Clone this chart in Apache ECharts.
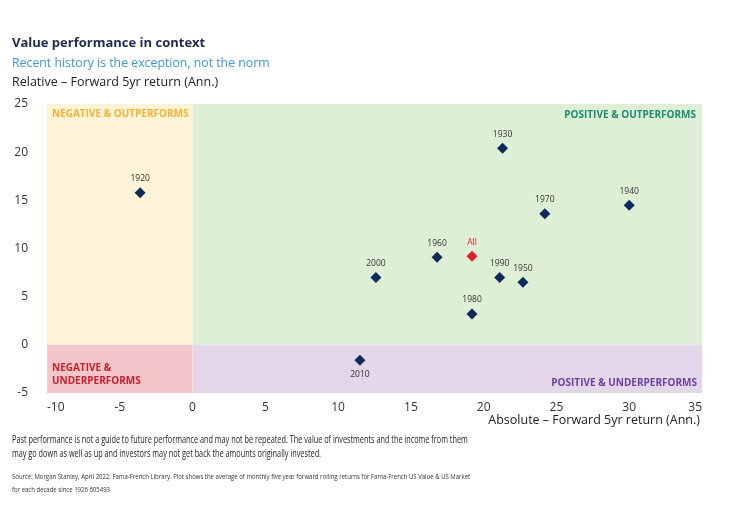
<!DOCTYPE html>
<html><head><meta charset="utf-8">
<script src="https://cdn.jsdelivr.net/npm/echarts@6/dist/echarts.min.js"></script>
<style>html,body{margin:0;padding:0;background:#fff}#c{width:745px;height:516px}</style>
</head><body><div id="c"></div>
<script>
const decades = ['1920','1930','1940','1950','1960','1970','1980','1990','2000','2010'];
const absoluteRet = [-3.6, 21.3, 30.0, 22.7, 16.8, 24.2, 19.2, 21.1, 12.6, 11.5];
const relativeRet = [15.8, 20.4, 14.5, 6.5, 9.1, 13.6, 3.2, 7.0, 7.0, -1.6];
const allLabel = 'All';
const allAbs = 19.2;
const allRel = 9.2;
const xTicks = [-10, 35, 5];
const yTicks = [-5, 25, 5];

const FONT = '"Open Sans", "Noto Sans", sans-serif';
const chart = echarts.init(document.getElementById('c'));
const pts = decades.map((d, i) => ({
  value: [absoluteRet[i], relativeRet[i]],
  name: d,
  label: { position: d === '2010' ? 'bottom' : 'top' }
}));
const qLabel = { fontWeight: 'bold', fontSize: 10, fontFamily: FONT };
chart.setOption({
  animation: false,
  textStyle: { fontFamily: FONT },
  grid: { left: 47, right: 43, top: 104, bottom: 123 },
  graphic: [
    { type: 'text', left: 12, top: 37, style: { text: 'Value performance in context', font: 'bold 13px ' + FONT, fill: '#1c2b4b' } },
    { type: 'text', left: 12, top: 57, style: { text: 'Recent history is the exception, not the norm', font: '12.3px ' + FONT, fill: '#3b98cf' } },
    { type: 'text', left: 12, top: 76, style: { text: 'Relative – Forward 5yr return (Ann.)', font: '12.5px ' + FONT, fill: '#222' } },
    { type: 'text', right: 45, top: 414, style: { text: 'Absolute – Forward 5yr return (Ann.)', font: '12.5px ' + FONT, fill: '#222' } },
    { type: 'text', x: 12, y: 433, scaleX: 0.73, style: { text: 'Past performance is not a guide to future performance and may not be repeated. The value of investments and the income from them\nmay go down as well as up and investors may not get back the amounts originally invested.', font: '10px ' + FONT, fill: '#222', lineHeight: 14 } },
    { type: 'text', x: 12, y: 470, scaleX: 0.75, style: { text: 'Source: Morgan Stanley, April 2022. Fama-French Library. Plot shows the average of monthly five year forward rolling returns for Fama-French US Value & US Market\nfor each decade since 1926 605493', font: '8px ' + FONT, fill: '#333', lineHeight: 13 } }
  ],
  xAxis: {
    type: 'value', min: xTicks[0], max: xTicks[1], interval: xTicks[2],
    axisLine: { show: false }, axisTick: { show: false }, splitLine: { show: false },
    axisLabel: { fontSize: 12, color: '#333', margin: 9, alignMinLabel: 'left', alignMaxLabel: 'right' }
  },
  yAxis: {
    type: 'value', min: yTicks[0], max: yTicks[1], interval: yTicks[2],
    axisLine: { show: false }, axisTick: { show: false }, splitLine: { show: false },
    axisLabel: { fontSize: 12, color: '#333', margin: 19, verticalAlign: 'middle', padding: [0, 0, 8, 0] }
  },
  series: [
    {
      type: 'scatter', symbol: 'diamond', symbolSize: 11,
      itemStyle: { color: '#0d2a5c', opacity: 1 },
      label: { show: true, formatter: '{b}', fontSize: 8.5, color: '#333', distance: 4 },
      data: pts,
      markArea: {
        silent: true,
        data: [
          [{ coord: [-10, 0], itemStyle: { color: '#fdf3d7' }, label: Object.assign({ show: true, position: 'insideTopLeft', distance: 5, formatter: 'NEGATIVE & OUTPERFORMS', color: '#f3b235' }, qLabel) }, { coord: [0, 25] }],
          [{ coord: [0, 0], itemStyle: { color: '#ddf0d6' }, label: Object.assign({ show: true, position: 'insideTopRight', distance: 6, formatter: 'POSITIVE & OUTPERFORMS', color: '#1f8b6e' }, qLabel) }, { coord: [35, 25] }],
          [{ coord: [-10, -5], itemStyle: { color: '#f3c7c9' }, label: Object.assign({ show: true, position: 'insideBottomLeft', distance: 5, formatter: 'NEGATIVE &\nUNDERPERFORMS', color: '#c8202c', lineHeight: 13 }, qLabel) }, { coord: [0, 0] }],
          [{ coord: [0, -5], itemStyle: { color: '#e4d6e9' }, label: Object.assign({ show: true, position: 'insideBottomRight', distance: 5, formatter: 'POSITIVE & UNDERPERFORMS', color: '#6a3fa1' }, qLabel) }, { coord: [35, 0] }]
        ]
      }
    },
    {
      type: 'scatter', symbol: 'diamond', symbolSize: 11,
      itemStyle: { color: '#e0202b', opacity: 1 },
      label: { show: true, position: 'top', formatter: '{b}', fontSize: 8.5, color: '#e0202b', distance: 4 },
      data: [{ value: [allAbs, allRel], name: allLabel }]
    }
  ]
});
</script></body></html>
